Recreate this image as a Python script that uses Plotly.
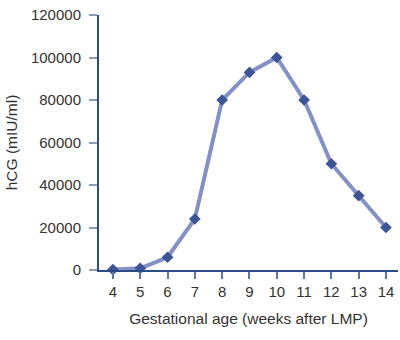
import plotly.graph_objects as go

# Gestational age in weeks after last menstrual period
weeks = [4, 5, 6, 7, 8, 9, 10, 11, 12, 13, 14]
# Serum hCG concentration (mIU/ml)
hcg = [200, 800, 6000, 24000, 80000, 93000, 100000, 80000, 50000, 35000, 20000]

y_ticks = [0, 20000, 40000, 60000, 80000, 100000, 120000]

axis_col = "#2b4c84"
font = dict(family="Liberation Sans", size=15, color="#333333")
title_font = dict(family="Liberation Sans", size=15.5, color="#333333")

fig = go.Figure(
    go.Scatter(
        x=weeks,
        y=hcg,
        mode="lines+markers",
        line=dict(color="#8391c4", width=4),
        marker=dict(symbol="diamond", size=9, color="#3d5597"),
        cliponaxis=False,
    )
)

fig.update_layout(
    width=400,
    height=340,
    margin=dict(l=99, r=2, t=15, b=70),
    paper_bgcolor="white",
    plot_bgcolor="white",
    font=font,
    showlegend=False,
    xaxis=dict(
        range=[3.49, 14.44],
        tickvals=weeks,
        showgrid=False,
        zeroline=False,
        showline=True,
        linecolor=axis_col,
        linewidth=2,
        ticks="outside",
        ticklen=7,
        tickcolor="#5a79a8",
        tickwidth=1.5,
        title=dict(text="Gestational age (weeks after LMP)", font=title_font, standoff=14),
    ),
    yaxis=dict(
        range=[0, 120000],
        tickvals=y_ticks,
        ticktext=[str(v) for v in y_ticks],
        showgrid=False,
        zeroline=False,
        showline=True,
        linecolor=axis_col,
        linewidth=2,
        ticks="outside",
        ticklen=8,
        tickcolor="#8a9cb8",
        tickwidth=1.5,
        ticklabelstandoff=5,
        title=dict(text="hCG (mIU/ml)", font=title_font, standoff=10),
    ),
)

fig.write_html("out.html")
